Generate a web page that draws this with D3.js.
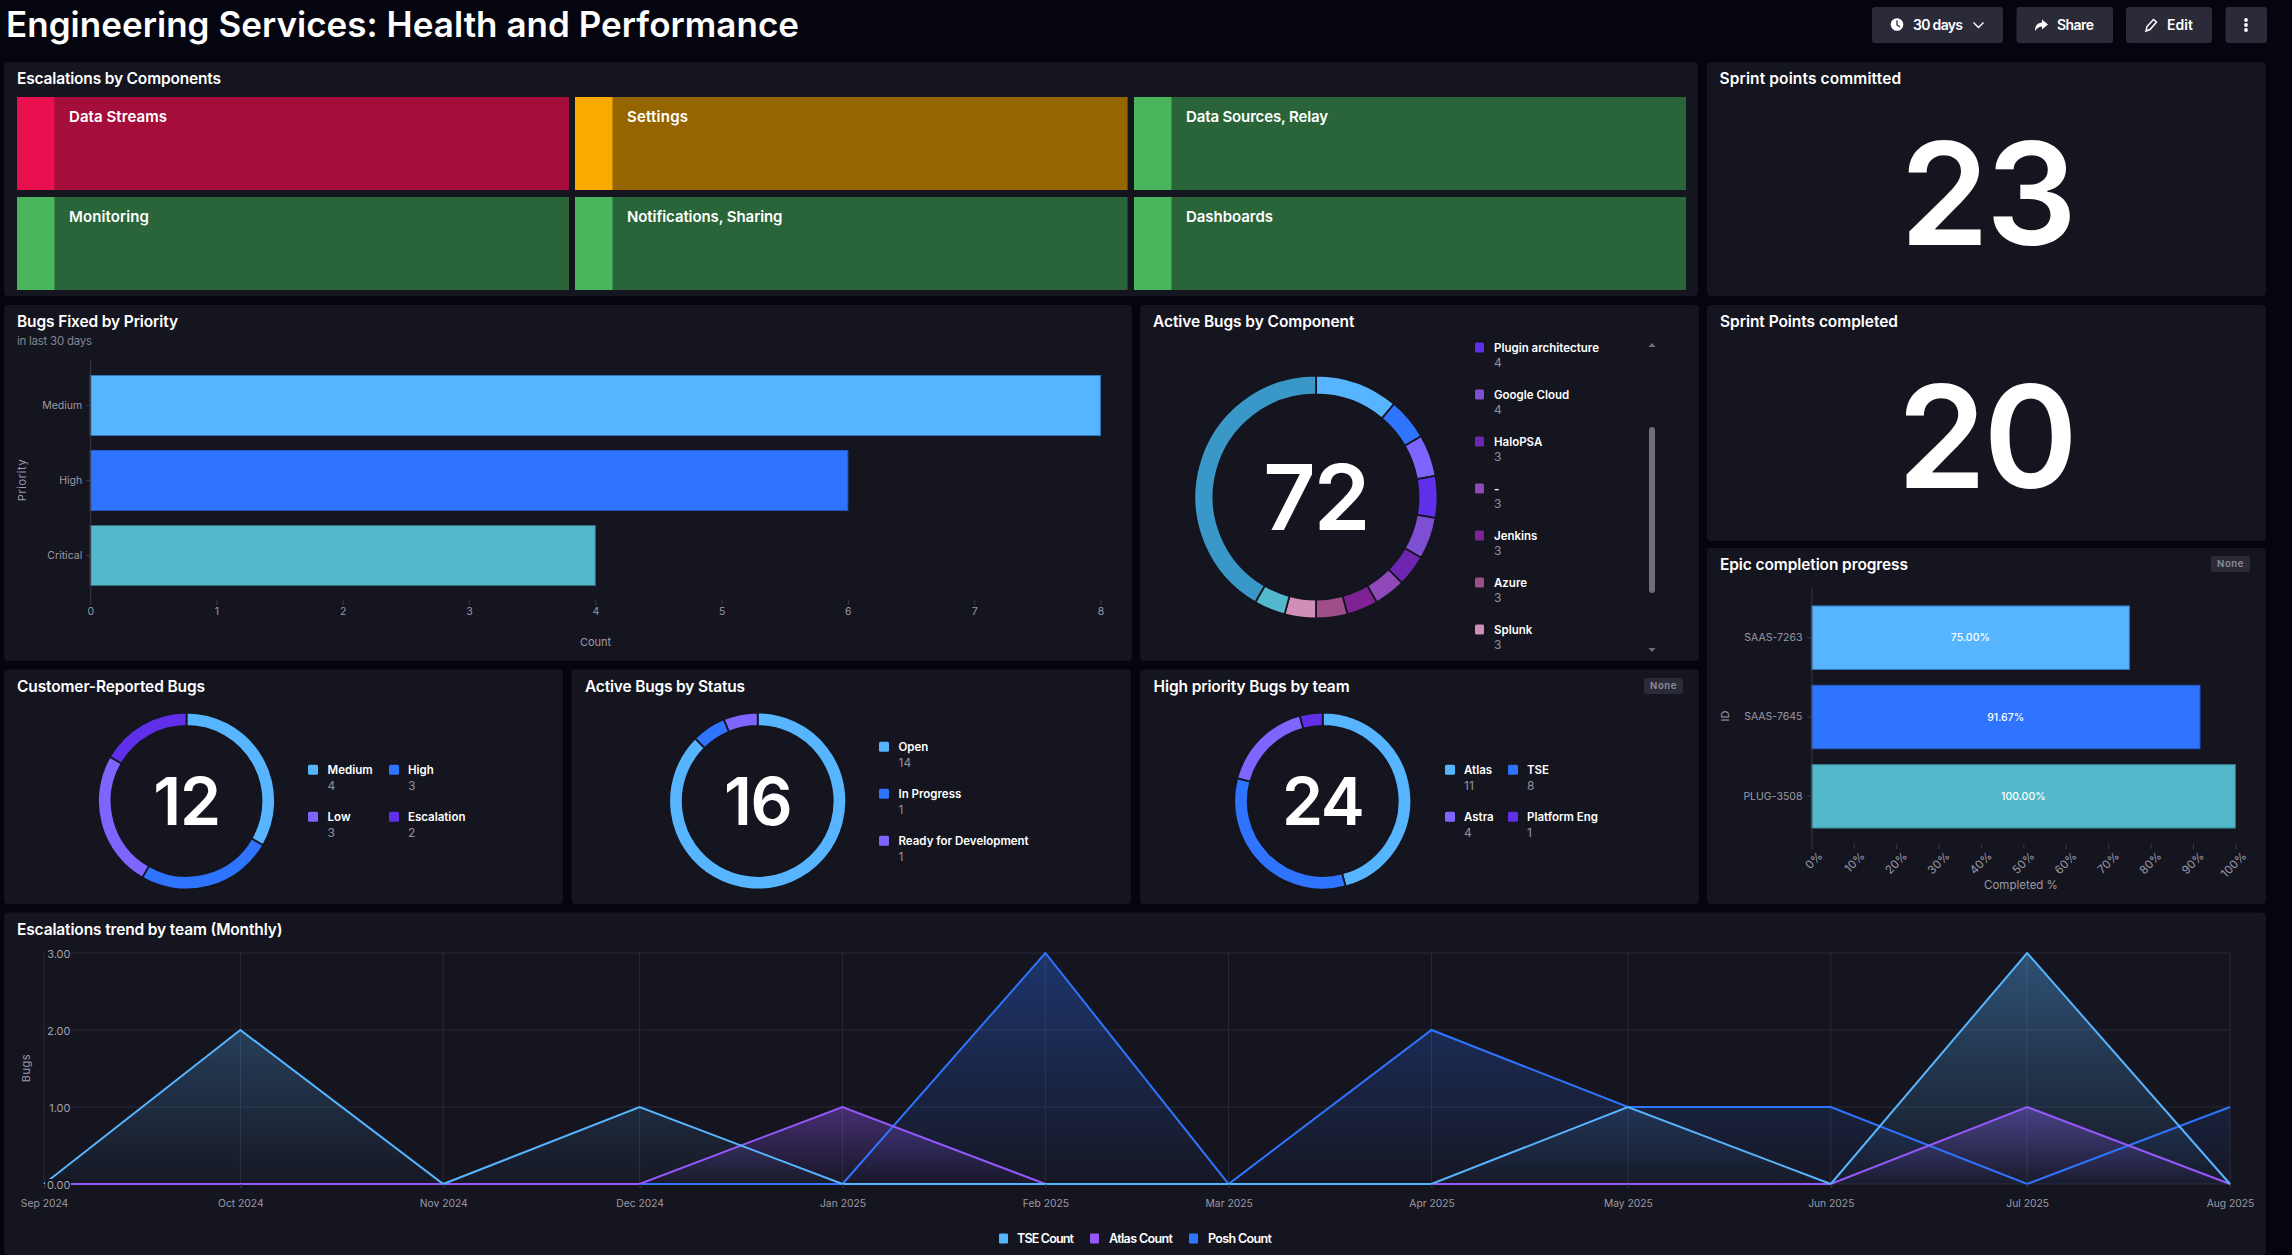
<!DOCTYPE html>
<html><head><meta charset="utf-8">
<script src="https://cdn.jsdelivr.net/npm/d3@7/dist/d3.min.js"></script>
<style>
html,body{margin:0;padding:0;background:#05050f;overflow:hidden}
svg{display:block}
text{font-family:Inter,"Noto Sans",sans-serif}
</style></head><body>
<svg id="c" width="2292" height="1255"></svg>
<script>
// ---------- data ----------
const dashboardTitle = "Engineering Services: Health and Performance";
const headerButtons = ["30 days", "Share", "Edit"];
const tileLabels = ["Data Streams", "Settings", "Data Sources, Relay", "Monitoring", "Notifications, Sharing", "Dashboards"];
const tileStates = ["crit", "warn", "ok", "ok", "ok", "ok"];
const sprintCommitted = 23;
const sprintCompleted = 20;
const priorityCategories = ["Medium", "High", "Critical"];
const priorityValues = [8, 6, 4];
const countTicks = [0, 1, 2, 3, 4, 5, 6, 7, 8];
const componentRingValues = [8, 4, 4, 4, 4, 3, 3, 3, 3, 3, 3, 30];
const componentLegendNames = ["Plugin architecture", "Google Cloud", "HaloPSA", "-", "Jenkins", "Azure", "Splunk"];
const componentLegendValues = [4, 4, 3, 3, 3, 3, 3];
const customerNames = ["Medium", "High", "Low", "Escalation"];
const customerValues = [4, 3, 3, 2];
const statusNames = ["Open", "In Progress", "Ready for Development"];
const statusValues = [14, 1, 1];
const teamNames = ["Atlas", "TSE", "Astra", "Platform Eng"];
const teamValues = [11, 8, 4, 1];
const epicIds = ["SAAS-7263", "SAAS-7645", "PLUG-3508"];
const epicValues = [75.00, 91.67, 100.00];
const percentTicks = [0, 10, 20, 30, 40, 50, 60, 70, 80, 90, 100];
const months = ["2024-09-01","2024-10-01","2024-11-01","2024-12-01","2025-01-01","2025-02-01","2025-03-01","2025-04-01","2025-05-01","2025-06-01","2025-07-01","2025-08-01"];
const monthLabels = ["Sep 2024","Oct 2024","Nov 2024","Dec 2024","Jan 2025","Feb 2025","Mar 2025","Apr 2025","May 2025","Jun 2025","Jul 2025","Aug 2025"];
const tseCounts   = [0, 2, 0, 1, 0, 0, 0, 0, 1, 0, 3, 0];
const atlasCounts = [0, 0, 0, 0, 1, 0, 0, 0, 0, 0, 1, 0];
const poshCounts  = [0, 0, 0, 0, 0, 3, 0, 2, 1, 1, 0, 1];
const bugTicks = [0, 1, 2, 3];

// ---------- style ----------
const BG="#05050f", PANEL="#151520", WHITE="#ffffff", MUTED="#92929e", GRID="#2a2a38", AXIS="#3a3a48";
const C1="#57b4ff", C2="#2e74ff", C3="#7c66ff", C4="#5f2fea", TEAL="#53b8cb";
const ringColors=[C1,C2,C3,C4,"#7f4fd3","#6e26b0","#9049b8","#7e2295","#a04e8a","#d08fb8",TEAL,"#3a98c8"];
const legendColors=[C4,"#7f4fd3","#6e26b0","#9049b8","#7e2295","#a04e8a","#d08fb8"];
const tileFill={crit:"#a50d3b",warn:"#956600",ok:"#296539"};
const tileStrip={crit:"#e8104f",warn:"#f9aa00",ok:"#49b65e"};

const svg=d3.select("#c");
const defs=svg.append("defs");
svg.append("rect").attr("width",2292).attr("height",1255).attr("fill",BG);

function txt(g,s,x,y,o={}){
  const t=g.append("text").attr("x",x).attr("y",y).attr("dy","0.36em")
    .attr("font-size",o.size||11).attr("font-weight",o.weight||400)
    .attr("fill",o.fill||MUTED).attr("text-anchor",o.anchor||"start").text(s);
  if(o.family) t.style("font-family",o.family);
  if(o.width) t.attr("textLength",o.width).attr("lengthAdjust","spacing");
  if(o.rotate!==undefined) t.attr("transform",`rotate(${o.rotate},${x},${y})`);
  return t;
}
function panel(x0,y0,x1,y1){
  return svg.append("rect").attr("x",x0).attr("y",y0).attr("width",x1-x0).attr("height",y1-y0).attr("rx",4).attr("fill",PANEL);
}
function title(s,x,y,w){ return txt(svg,s,x,y+0.4,{size:15.5,weight:600,fill:WHITE,width:w}); }
function badge(x0,x1,y0,y1){
  svg.append("rect").attr("x",x0).attr("y",y0).attr("width",x1-x0).attr("height",y1-y0).attr("rx",3).attr("fill","#2b2b38");
  txt(svg,"None",(x0+x1)/2,(y0+y1)/2,{size:9.5,weight:600,fill:"#8d8d99",anchor:"middle"}).attr("letter-spacing",0.6);
}

// ---------- header ----------
txt(svg,dashboardTitle,6,24.5,{size:35,weight:600,fill:WHITE,width:793});
const btn=[[1872,2003],[2016.5,2113],[2126,2212],[2225.5,2267]];
btn.forEach(b=>svg.append("rect").attr("x",b[0]).attr("y",7).attr("width",b[1]-b[0]).attr("height",36).attr("rx",3).attr("fill","#2a2a38"));
txt(svg,headerButtons[0],1913,24.5,{size:14,weight:600,fill:WHITE,width:50});
txt(svg,headerButtons[1],2057,24.5,{size:14,weight:600,fill:WHITE,width:37});
txt(svg,headerButtons[2],2167,24.5,{size:14,weight:600,fill:WHITE,width:26});
// clock
svg.append("circle").attr("cx",1897).attr("cy",24.5).attr("r",6.3).attr("fill",WHITE);
svg.append("path").attr("d","M1897 20.5V25L1900 27").attr("stroke","#2a2a38").attr("stroke-width",1.3).attr("fill","none");
// chevron
svg.append("path").attr("d","M1973.5 22.5L1978.5 27.5L1983.5 22.5").attr("stroke",WHITE).attr("stroke-width",1.4).attr("fill","none");
// share
svg.append("path").attr("d","M2035 31C2035 25 2038 23 2042 22.5V19.5L2048 24.5L2042 29.5V26.5C2039.5 26.5 2037 28 2035 31Z").attr("fill",WHITE);
// edit pencil
svg.append("path").attr("d","M2146 31L2147 26.5L2153.5 19.5L2156.5 22L2150 29.5Z").attr("fill","none").attr("stroke",WHITE).attr("stroke-width",1.5);
// dots
[20,25,30].forEach(y=>svg.append("circle").attr("cx",2246).attr("cy",y).attr("r",1.9).attr("fill",WHITE));

// ---------- escalations tiles ----------
panel(4,62,1698,296);
title("Escalations by Components",17,77.6,204);
const tileY=d3.scaleBand().domain(d3.range(2)).range([97,290]).paddingInner(0.07);
const tileWidths=[98,61,142,80,155.5,87];
tileLabels.forEach((name,i)=>{
  const c=i%3,r=Math.floor(i/3),x=[17,575,1134][c],w=[552,552.6,552][c],y=tileY(r),h=tileY.bandwidth();
  svg.append("rect").attr("x",x).attr("y",y).attr("width",w).attr("height",h).attr("fill",tileFill[tileStates[i]]);
  svg.append("rect").attr("x",x).attr("y",y).attr("width",37.5).attr("height",h).attr("fill",tileStrip[tileStates[i]]);
  txt(svg,name,x+52,y+19.8,{size:15,weight:600,fill:WHITE,width:tileWidths[i]});
});

// ---------- stats ----------
panel(1707,62,2266,296);
title("Sprint points committed",1719.5,77.6,181.6);
txt(svg,sprintCommitted,1987,193.5,{size:143,weight:600,fill:WHITE,anchor:"middle"}).attr("letter-spacing",-3);
panel(1707,305,2266,541);
title("Sprint Points completed",1720,321,178);
txt(svg,sprintCompleted,1986,437,{size:143,weight:600,fill:WHITE,anchor:"middle"}).attr("letter-spacing",-3);

// ---------- Bugs fixed by priority ----------
panel(4,305,1132,661);
title("Bugs Fixed by Priority",17,321,161);
txt(svg,"in last 30 days",17,340.6,{size:11.5,fill:"#84848f",width:75});
const prioX=d3.scaleLinear().domain([0,8]).range([90.2,1100.4]);
const prioY=d3.scaleBand().domain(priorityCategories).range([368,593]).paddingInner(0.2).paddingOuter(0.1);
const prioColors=[C1,C2,TEAL], prioEdge=["#2f79c4","#2559c8","#37707e"];
svg.append("g").selectAll("rect").data(priorityCategories).join("rect")
  .attr("x",prioX(0)).attr("y",d=>prioY(d)).attr("height",prioY.bandwidth())
  .attr("width",(d,i)=>prioX(priorityValues[i])-prioX(0))
  .attr("fill",(d,i)=>prioColors[i]).attr("stroke",(d,i)=>prioEdge[i]).attr("stroke-width",1);
const prioAxisB=svg.append("g").attr("transform","translate(0,600)")
  .call(d3.axisBottom(prioX).tickValues(countTicks).tickSize(5).tickFormat(d3.format("d")));
prioAxisB.select(".domain").remove();
const prioAxisL=svg.append("g").attr("transform","translate(90.2,0)")
  .call(d3.axisLeft(prioY).tickSize(4).tickPadding(4));
prioAxisL.select(".domain").attr("d","M0.5,359V600");
txt(svg,"Count",595.5,642.5,{size:11,anchor:"middle",fill:"#9a9aa6"});
txt(svg,"Priority",22,480,{size:11,anchor:"middle",rotate:-90,fill:"#9a9aa6"}).attr("letter-spacing",0.6);

// ---------- donuts ----------
function donut(cx,cy,R,r,values,colors,total,fs){
  const g=svg.append("g").attr("transform",`translate(${cx},${cy})`);
  const pie=d3.pie().sort(null)(values);
  const arc=d3.arc().innerRadius(r).outerRadius(R);
  g.selectAll("path").data(pie).join("path").attr("d",arc).attr("fill",(d,i)=>colors[i]).attr("stroke",PANEL).attr("stroke-width",1.8);
  txt(g,total,0,0,{size:fs,weight:600,fill:WHITE,anchor:"middle"}).attr("letter-spacing",-fs*0.02);
}
function legendItem(x,lx,y,name,val,color,vy,size){
  svg.append("rect").attr("x",x).attr("y",y-5).attr("width",size||10).attr("height",10).attr("rx",1.5).attr("fill",color);
  txt(svg,name,lx,y,{size:11.5,weight:600,fill:WHITE});
  txt(svg,val,lx,vy||y+15.5,{size:12,fill:"#92929e"});
}
panel(1140,305,1699,661);
title("Active Bugs by Component",1153,321,201.5);
donut(1316,497,121.5,102.5,componentRingValues,ringColors,d3.sum(componentRingValues),91);
componentLegendNames.forEach((n,i)=>legendItem(1475,1494,347.6+47*i,n,componentLegendValues[i],legendColors[i],362.6+47*i,9));
svg.append("rect").attr("x",1649).attr("y",427).attr("width",6).attr("height",166).attr("rx",3).attr("fill","#6e6e78");
svg.append("path").attr("d","M1652 343L1655.5 347H1648.5Z").attr("fill","#6e6e78");
svg.append("path").attr("d","M1652 652L1655.5 648H1648.5Z").attr("fill","#6e6e78");

const four=[C1,C2,C3,C4];
panel(4,669.5,563,904);
title("Customer-Reported Bugs",17,686.5,188);
donut(186.5,801,88.5,75,customerValues,four,d3.sum(customerValues),66);
customerNames.forEach((n,i)=>{const c=i%2,r=Math.floor(i/2);
  legendItem([308,389][c],[327.6,408][c],769.7+47*r,n,customerValues[i],four[i]);});

panel(571.5,669.5,1131,904);
title("Active Bugs by Status",585,686.5,160);
donut(757.7,801,88.5,75,statusValues,four,d3.sum(statusValues),66);
statusNames.forEach((n,i)=>legendItem(879,898.5,746.7+47*i,n,statusValues[i],four[i]));

panel(1140,669.5,1699,904);
title("High priority Bugs by team",1153.6,686.5,196);
badge(1644,1683,678,694);
donut(1322.7,801,88.5,75,teamValues,four,d3.sum(teamValues),66);
teamNames.forEach((n,i)=>{const c=i%2,r=Math.floor(i/2);
  legendItem([1445,1508][c],[1464,1527][c],769.7+47*r,n,teamValues[i],four[i]);});

// ---------- Epic ----------
panel(1707,548,2266,904);
title("Epic completion progress",1720,564.3,188);
badge(2211,2250,556,572);
const epicX=d3.scaleLinear().domain([0,100]).range([1811.4,2235.3]);
const epicY=d3.scaleBand().domain(epicIds).range([598,836]).paddingInner(0.2).paddingOuter(0.1);
const epicEdge=["#2f79c4","#2559c8","#37808e"];
svg.append("g").selectAll("rect").data(epicIds).join("rect")
  .attr("x",epicX(0)).attr("y",d=>epicY(d)).attr("height",epicY.bandwidth())
  .attr("width",(d,i)=>epicX(epicValues[i])-epicX(0))
  .attr("fill",(d,i)=>prioColors[i]).attr("stroke",(d,i)=>epicEdge[i]).attr("stroke-width",1);
svg.append("g").selectAll("text").data(epicIds).join("text")
  .attr("x",(d,i)=>(epicX(0)+epicX(epicValues[i]))/2).attr("y",d=>epicY(d)+epicY.bandwidth()/2).attr("dy","0.36em")
  .attr("text-anchor","middle").attr("font-size",10.5).attr("font-weight",500).attr("fill",WHITE)
  .text((d,i)=>epicValues[i].toFixed(2)+"%");
const epicAxisB=svg.append("g").attr("transform","translate(0,844)")
  .call(d3.axisBottom(epicX).tickValues(percentTicks).tickSize(5).tickFormat(d=>d+"%"));
epicAxisB.select(".domain").remove();
const epicAxisL=svg.append("g").attr("transform","translate(1811.4,0)")
  .call(d3.axisLeft(epicY).tickSize(4).tickPadding(5));
epicAxisL.select(".domain").attr("d","M0.5,588V844");
txt(svg,"Completed %",2021,885.3,{size:11.5,anchor:"middle",fill:"#9a9aa6"});
txt(svg,"ID",1725,716,{size:11,anchor:"middle",rotate:-90,fill:"#9a9aa6"});

// ---------- trend ----------
panel(4,912.5,2266,1255);
title("Escalations trend by team (Monthly)",17,929.2,265.5);
const dates=months.map(d=>new Date(d+"T00:00:00Z"));
const tx=d3.scaleUtc().domain([dates[0],dates[11]]).range([44,2230]);
const ty=d3.scaleLinear().domain([0,3]).range([1184,953]);
const gridG=svg.append("g");
gridG.selectAll("line.h").data(bugTicks).join("line").attr("class","h")
  .attr("x1",44).attr("x2",2230).attr("y1",d=>ty(d)).attr("y2",d=>ty(d)).attr("stroke",GRID).attr("stroke-width",1);
gridG.selectAll("line.v").data(dates).join("line").attr("class","v")
  .attr("x1",d=>tx(d)).attr("x2",d=>tx(d)).attr("y1",ty(3)).attr("y2",ty(0)).attr("stroke",GRID).attr("stroke-width",1);
const seriesList=[
  {key:"posh",values:poshCounts,color:C2,op:0.34},
  {key:"atlas",values:atlasCounts,color:"#9558fb",op:0.38},
  {key:"tse",values:tseCounts,color:C1,op:0.38}
];
seriesList.forEach(s=>{
  const gr=defs.append("linearGradient").attr("id","g"+s.key).attr("x1",0).attr("x2",0).attr("y1",0).attr("y2",1);
  gr.append("stop").attr("offset","0%").attr("stop-color",s.color).attr("stop-opacity",s.op);
  gr.append("stop").attr("offset","100%").attr("stop-color",s.color).attr("stop-opacity",0.02);
  svg.append("path").datum(s.values)
    .attr("d",d3.area().x((d,i)=>tx(dates[i])).y0(ty(0)).y1(d=>ty(d)))
    .attr("fill",`url(#g${s.key})`);
});
seriesList.forEach(s=>{
  svg.append("path").datum(s.values)
    .attr("d",d3.line().x((d,i)=>tx(dates[i])).y(d=>ty(d)))
    .attr("fill","none").attr("stroke",s.color).attr("stroke-width",2);
});
const trendAxis=svg.append("g").attr("transform",`translate(0,${ty(0)})`)
  .call(d3.axisBottom(tx).tickValues(dates).tickSize(4).tickPadding(12).tickFormat((d,i)=>monthLabels[i]));
trendAxis.select(".domain").remove();
bugTicks.forEach(v=>{
  svg.append("rect").attr("x",45).attr("y",ty(v)-5).attr("width",26).attr("height",11).attr("fill",PANEL);
  txt(svg,v.toFixed(2),70.5,ty(v)+0.8,{size:11,anchor:"end",fill:"#a2a2ae"});
});
txt(svg,"Bugs",26,1068,{size:11,anchor:"middle",rotate:-90,fill:"#9a9aa6"}).attr("letter-spacing",0.5);
[["TSE Count",C1,999,1017,57],["Atlas Count","#9558fb",1090,1109,64],["Posh Count",C2,1189,1208,64]].forEach(l=>{
  svg.append("rect").attr("x",l[2]).attr("y",1233.5).attr("width",9).attr("height",10).attr("rx",1).attr("fill",l[1]);
  txt(svg,l[0],l[3],1238.7,{size:12.5,weight:600,fill:WHITE,width:l[4]});
});

// ---------- axis styling ----------
svg.selectAll(".tick text").attr("fill","#9a9aa6").attr("font-size",10.5).style("font-family","Inter");
svg.selectAll(".tick line").attr("stroke",AXIS);
svg.selectAll(".domain").attr("stroke",AXIS).attr("fill","none");
epicAxisB.selectAll(".tick text").attr("font-size",11.5).attr("text-anchor","end").attr("transform","rotate(-45)").attr("x",-1).attr("y",13).attr("dy","0.35em");
trendAxis.selectAll(".tick text").attr("font-size",10.3);
</script></body></html>
